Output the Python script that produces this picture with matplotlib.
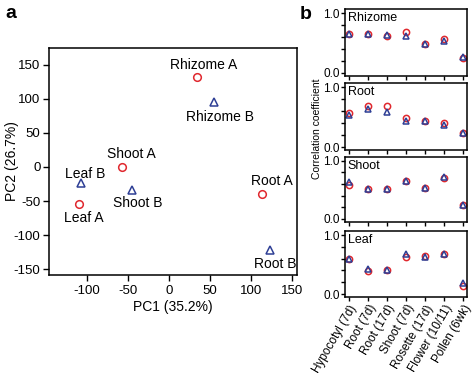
import matplotlib
matplotlib.use('Agg')
import matplotlib.pyplot as plt

plt.rcParams['font.family'] = ['Liberation Sans', 'DejaVu Sans']
plt.rcParams['axes.unicode_minus'] = False

# ---- panel a: PCA ----
labels_a = ['Rhizome A', 'Shoot A', 'Leaf A', 'Root A']
pc1_a = [34, -57, -109, 113]
pc2_a = [131, 0, -54, -39]
labels_b = ['Rhizome B', 'Shoot B', 'Leaf B', 'Root B']
pc1_b = [55, -45, -107, 123]
pc2_b = [95, -34, -24, -122]
# label offsets (points)
offs_a = [(5, 9), (7, 9), (3, -10), (7, 9)]
offs_b = [(4, -11), (4, -9), (3, 7), (4, -10)]

# ---- panel b: correlation ----
stages = ['Hypocotyl (7d)', 'Root (7d)', 'Root (17d)', 'Shoot (7d)',
          'Rosette (17d)', 'Flower (10/11)', 'Pollen (6wk)']
tissues = ['Rhizome', 'Root', 'Shoot', 'Leaf']
corr_a = {
    'Rhizome': [0.65, 0.65, 0.62, 0.69, 0.48, 0.57, 0.25],
    'Root':    [0.57, 0.69, 0.68, 0.49, 0.43, 0.41, 0.23],
    'Shoot':   [0.58, 0.51, 0.51, 0.65, 0.53, 0.70, 0.24],
    'Leaf':    [0.59, 0.39, 0.40, 0.63, 0.65, 0.68, 0.14],
}
corr_b = {
    'Rhizome': [0.65, 0.65, 0.64, 0.62, 0.48, 0.53, 0.27],
    'Root':    [0.54, 0.64, 0.58, 0.43, 0.44, 0.37, 0.23],
    'Shoot':   [0.63, 0.51, 0.51, 0.65, 0.54, 0.72, 0.24],
    'Leaf':    [0.60, 0.42, 0.40, 0.68, 0.63, 0.68, 0.18],
}

red = '#e0282e'
blue = '#2e3f95'

fig = plt.figure(figsize=(4.74, 3.76), dpi=100)

ax = fig.add_axes([0.103, 0.269, 0.524, 0.603])
ax.plot(pc1_a, pc2_a, 'o', ms=5.5, mfc='none', mec=red, mew=1.1)
ax.plot(pc1_b, pc2_b, '^', ms=5.5, mfc='none', mec=blue, mew=1.1)
for x, y, t, o in zip(pc1_a, pc2_a, labels_a, offs_a):
    ax.annotate(t, (x, y), xytext=o, textcoords='offset points',
                ha='center', va='center', fontsize=10)
for x, y, t, o in zip(pc1_b, pc2_b, labels_b, offs_b):
    ax.annotate(t, (x, y), xytext=o, textcoords='offset points',
                ha='center', va='center', fontsize=10)
ax.set_xlim(-146, 156)
ax.set_ylim(-158, 174)
ax.set_xticks([-100, -50, 0, 50, 100, 150])
ax.set_yticks([-150, -100, -50, 0, 50, 100, 150])
ax.tick_params(labelsize=9.5, length=4, width=1)
ax.tick_params(axis='y', pad=2)
ax.set_xlabel('PC1 (35.2%)', fontsize=10, labelpad=2)
ax.set_ylabel('PC2 (26.7%)', fontsize=10)
ax.yaxis.set_label_coords(-0.122, 0.5)
for s in ax.spines.values():
    s.set_linewidth(1.1)

fig.text(0.012, 0.965, 'a', fontsize=14, fontweight='bold', va='center')
fig.text(0.633, 0.962, 'b', fontsize=14, fontweight='bold', va='center')

# panel b axes
bottoms = [0.798, 0.601, 0.410, 0.210]
heights = [0.178, 0.178, 0.173, 0.176]
xs = list(range(len(stages)))
for i, tis in enumerate(tissues):
    bx = fig.add_axes([0.728, bottoms[i], 0.257, heights[i]])
    bx.plot(xs, corr_a[tis], 'o', ms=4.5, mfc='none', mec=red, mew=1.1)
    bx.plot(xs, corr_b[tis], '^', ms=4.5, mfc='none', mec=blue, mew=1.1)
    bx.set_xlim(-0.2, 6.2)
    bx.set_ylim(-0.05, 1.07)
    bx.set_yticks([0.0, 0.2, 0.4, 0.6, 0.8, 1.0])
    bx.set_yticklabels(['0.0', '', '', '', '', '1.0'])
    bx.set_xticks(xs)
    if i == len(tissues) - 1:
        bx.set_xticklabels(stages, rotation=60, ha='right',
                           rotation_mode='anchor', fontsize=8.5)
    else:
        bx.set_xticklabels([])
    bx.tick_params(labelsize=8.5, length=3, width=1, pad=1)
    bx.text(0.02, 0.95, tis, transform=bx.transAxes, fontsize=9, va='top')
    for s in bx.spines.values():
        s.set_linewidth(1.1)

fig.text(0.669, 0.657, 'Correlation coefficient', rotation=90,
         fontsize=7.5, ha='center', va='center')

fig.savefig('out.png', dpi=100)
